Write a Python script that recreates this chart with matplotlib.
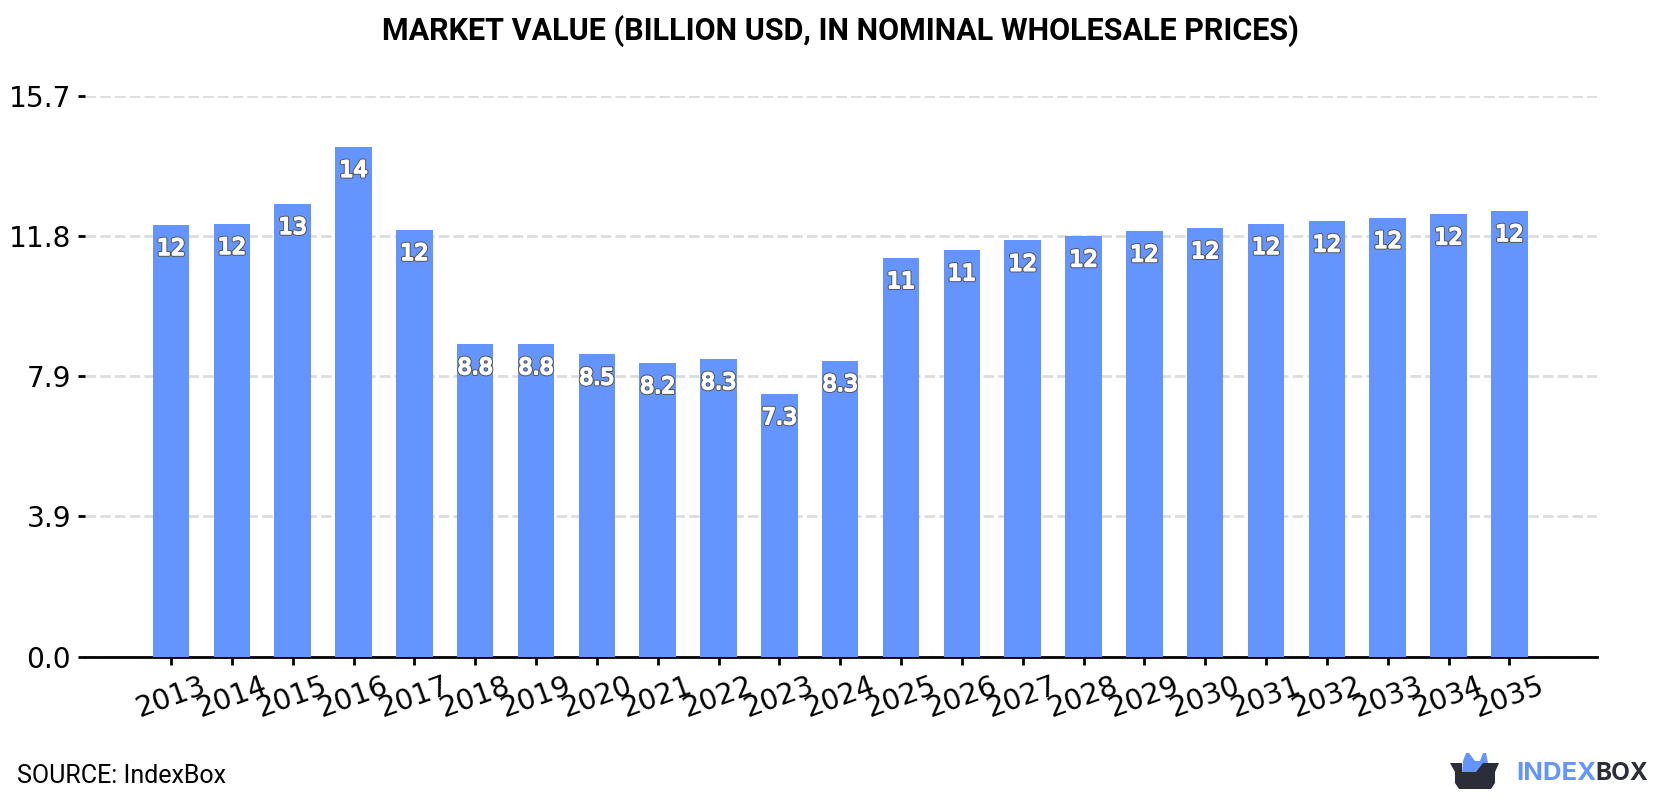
import matplotlib
matplotlib.use("Agg")
import matplotlib.pyplot as plt
import matplotlib.patheffects as pe
from matplotlib.patches import Polygon

years = [2013, 2014, 2015, 2016, 2017, 2018, 2019, 2020, 2021, 2022, 2023, 2024,
         2025, 2026, 2027, 2028, 2029, 2030, 2031, 2032, 2033, 2034, 2035]
values = [12.1, 12.13, 12.69, 14.29, 11.96, 8.76, 8.76, 8.47, 8.23, 8.34, 7.36, 8.29,
          11.17, 11.39, 11.66, 11.78, 11.92, 12.01, 12.13, 12.2, 12.3, 12.4, 12.49]
bar_labels = ["12", "12", "13", "14", "12", "8.8", "8.8", "8.5", "8.2", "8.3", "7.3", "8.3",
              "11", "11", "12", "12", "12", "12", "12", "12", "12", "12", "12"]
y_ticks = [0.0, 3.925, 7.85, 11.775, 15.7]
y_tick_labels = ["0.0", "3.9", "7.9", "11.8", "15.7"]

BLUE = "#6495ff"
DARK = "#2b2d38"
W, H = 1680, 800

fig = plt.figure(figsize=(W / 100, H / 100), dpi=100, facecolor="white")
ax = fig.add_axes([85 / W, 1 - 656.5 / H, (1597 - 85) / W, (656.5 - 96.2) / H])

positions = list(range(len(years)))
ax.bar(positions, values, width=0.6, color=BLUE, zorder=3)
ax.set_xlim(-1.414, 23.44)
ax.set_ylim(0, 15.7)

ax.set_yticks(y_ticks)
ax.set_yticklabels(y_tick_labels, fontsize=20.2, family="DejaVu Sans")
ax.set_xticks(positions)
ax.set_xticklabels(years, fontsize=20.5, family="DejaVu Sans", rotation=20, rotation_mode="default")
ax.tick_params(axis="y", length=5, width=2, pad=5, color="black")
ax.tick_params(axis="x", length=6, width=2, pad=5, color="black")

ax.yaxis.grid(True, color="#dddddd", linewidth=2, linestyle=(0, (3.8, 1.5)), zorder=0)
ax.xaxis.grid(False)
ax.set_axisbelow(True)
for side in ("top", "left", "right"):
    ax.spines[side].set_visible(False)
ax.spines["bottom"].set_linewidth(2)

# value captions inside the top of each bar: white glyphs with a thin grey rim
for x, v, s in zip(positions, values, bar_labels):
    ax.annotate(s, (x, v), xytext=(0, -17.4), textcoords="offset points",
                ha="center", va="center", fontsize=16, color="white",
                family="DejaVu Sans", zorder=5,
                path_effects=[pe.withStroke(linewidth=2.8, foreground="#555555"),
                              pe.withStroke(linewidth=1.4, foreground="white")])

# overlay in pixel coordinates for title, source line and logo
ov = fig.add_axes([0, 0, 1, 1], facecolor="none")
ov.set_xlim(0, W)
ov.set_ylim(H, 0)
ov.axis("off")

ov.text(840, 31, "MARKET VALUE (BILLION USD, IN NOMINAL WHOLESALE PRICES)",
        ha="center", va="center", fontsize=22, fontweight="bold", family="Roboto", color="black")
ov.text(17, 776, "SOURCE: IndexBox", ha="left", va="center", fontsize=18, family="Roboto", color="black")

# logo: box with blue ears
ov.add_patch(Polygon([(1462, 772), (1463, 761), (1466, 753), (1469, 753), (1475, 761),
                      (1480, 761), (1483, 753), (1486, 753), (1488, 763), (1478, 772)],
                     closed=True, facecolor=BLUE, edgecolor="none"))
ov.add_patch(Polygon([(1450, 763), (1462, 763), (1462, 772), (1476, 772), (1483, 763), (1499, 763),
                      (1495, 772), (1495, 783), (1491, 789), (1459, 789), (1455, 783), (1455, 772)],
                     closed=True, facecolor=DARK, edgecolor="none"))
ov.text(1516, 773.5, "INDEX", ha="left", va="center", fontsize=18.5, fontweight="bold",
        family="Inter", color=BLUE)
ov.text(1595, 773.5, "BOX", ha="left", va="center", fontsize=17.5, fontweight="bold",
        family="Inter", color=DARK)

fig.savefig("out.png", dpi=100, facecolor="white")
